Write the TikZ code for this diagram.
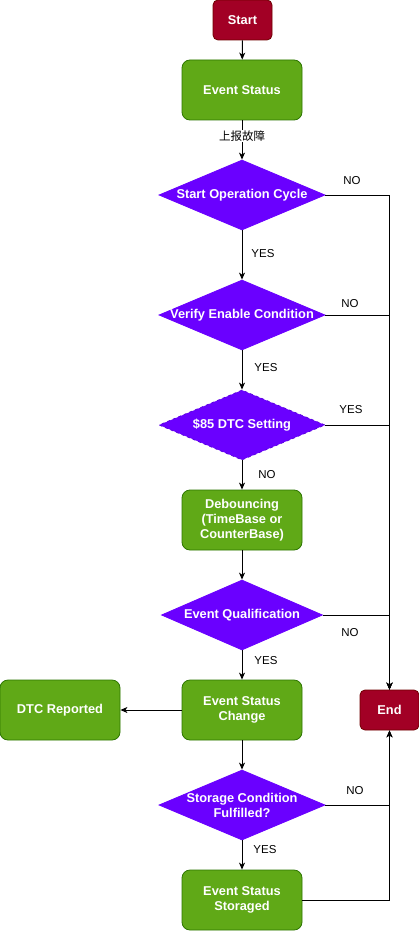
\documentclass[tikz,border=0pt]{standalone}
\usepackage{fontspec}
\setmainfont{Liberation Sans}
\newfontfamily\cjk{Noto Sans CJK SC}
\usetikzlibrary{shapes.geometric,arrows.meta}
\definecolor{redf}{HTML}{A20025}
\definecolor{reds}{HTML}{6F0000}
\definecolor{grnf}{HTML}{60A917}
\definecolor{grns}{HTML}{2D7600}
\definecolor{purf}{HTML}{6A00FF}
\definecolor{purs}{HTML}{5A00E0}
\tikzset{
  base/.style={font=\fontsize{12.8}{15}\selectfont\bfseries, text=white, align=center, inner sep=0pt},
  termbox/.style={base, rectangle, rounded corners=5pt, fill=redf, draw=reds, line width=0.8pt, minimum width=59pt, minimum height=40pt},
  procbox/.style={base, rectangle, rounded corners=8pt, fill=grnf, draw=grns, line width=0.8pt, minimum width=120pt, minimum height=60pt},
  dia/.style={diamond, fill=purf, draw=purf, line width=0.8pt, inner sep=0pt, minimum width=166pt, minimum height=70pt},
  diatext/.style={base},
  lbl/.style={font=\fontsize{11.5}{13}\selectfont, text=black, inner sep=1pt},
  flow/.style={line width=1pt, draw=black, -{Stealth[length=7pt,width=6pt,inset=2pt]}},
  plain/.style={line width=1pt, draw=black}
}
\begin{document}
\begin{tikzpicture}[x=1pt,y=-1pt]
\useasboundingbox[fill=white] (0,0) rectangle (419,931);
\node[termbox] (start) at (242.5,20) {Start};
\node[procbox] (es) at (242,90) {Event Status};
\node[dia, label={[diatext]center:Start Operation Cycle}] (d1) at (242,195) {};
\node[dia, label={[diatext]center:Verify Enable Condition}] (d2) at (242,315) {};
\node[dia, draw=purs, dashed, label={[diatext]center:\$85 DTC Setting}] (d3) at (242,425) {};
\node[procbox] (deb) at (242,520) {Debouncing\\(TimeBase or\\CounterBase)};
\node[dia, minimum width=161pt, label={[diatext]center:Event Qualification}] (d4) at (242,615) {};
\node[procbox] (esc) at (242,710) {Event Status\\Change};
\node[procbox] (dtc) at (60,710) {DTC Reported};
\node[termbox] (end) at (389.5,710) {End};
\node[dia, label={[diatext, align=center]center:Storage Condition\\Fulfilled?}] (d5) at (242,805) {};
\node[procbox] (ess) at (242,900) {Event Status\\Storaged};

% main flow
\draw[flow] (start) -- (es);
\draw[flow] (es) -- node[lbl, fill=white, pos=0.4] (l0) {\cjk 上报故障} (d1.north);
\draw[flow] (d1) -- (d2);
\draw[flow] (d2) -- (d3);
\draw[flow] (d3) -- (deb);
\draw[flow] (deb) -- (d4);
\draw[flow] (d4) -- (esc);
\draw[flow] (esc) -- (dtc);
\draw[flow] (esc) -- (d5);
\draw[flow] (d5) -- (ess);

% right side to End
\draw[flow] (d1.east) -| (end.north);
\draw[flow] (d2.east) -| (end.north);
\draw[flow] (d3.east) -| (end.north);
\draw[flow] (d4.east) -| (end.north);
\draw[flow] (d5.east) -| (end.south);
\draw[flow] (ess.east) -| (end.south);

% labels
\node[lbl] (n1) at (352,181) {NO};
\node[lbl] (y1) at (263,254) {YES};
\node[lbl] (n2) at (350,304) {NO};
\node[lbl] (y2) at (266,368) {YES};
\node[lbl] (y3) at (351,410) {YES};
\node[lbl] (n3) at (267,475) {NO};
\node[lbl] (n4) at (350,633) {NO};
\node[lbl] (y4) at (266,661) {YES};
\node[lbl] (n5) at (355,791) {NO};
\node[lbl] (y5) at (265,850) {YES};
\end{tikzpicture}
\end{document}
